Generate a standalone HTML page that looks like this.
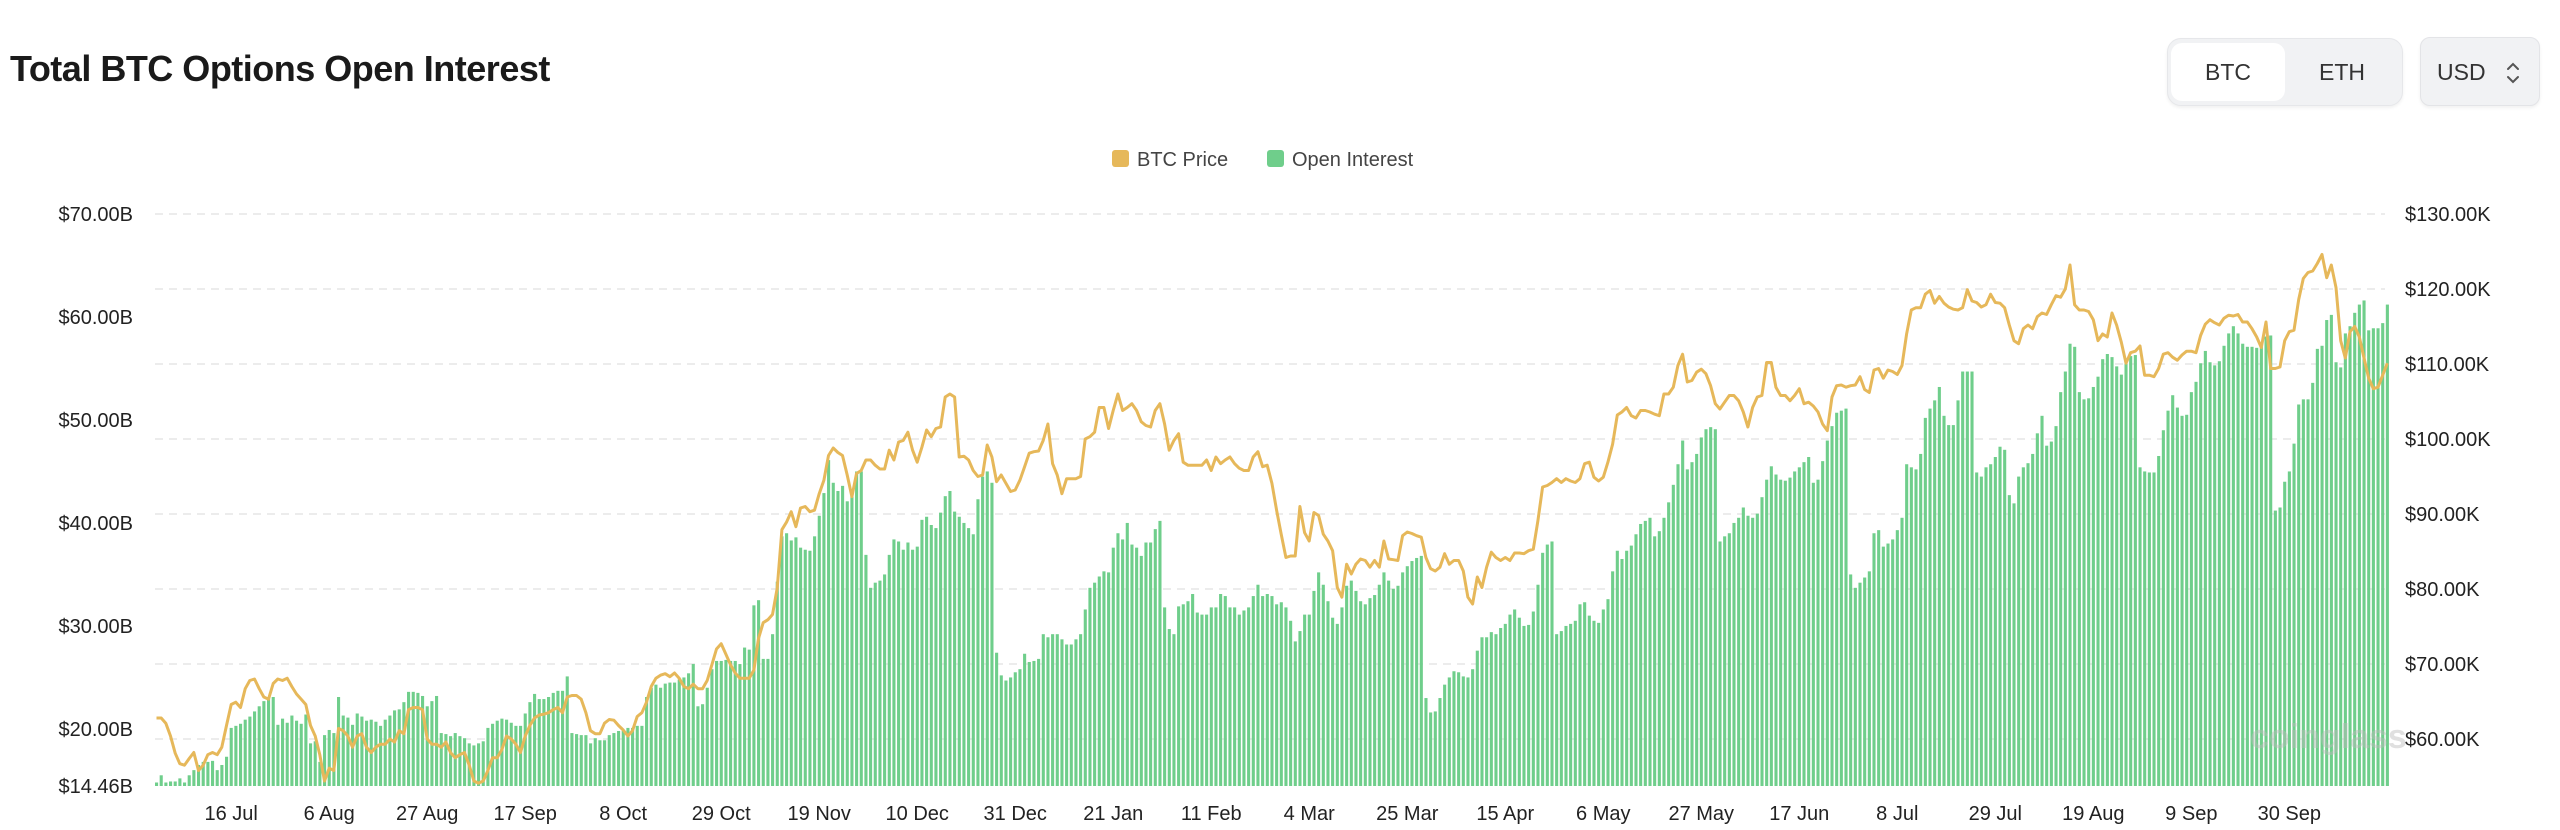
<!DOCTYPE html>
<html><head><meta charset="utf-8">
<style>
html,body{margin:0;padding:0;background:#fff;width:2560px;height:830px;overflow:hidden;font-family:"Liberation Sans",sans-serif;}
#title{position:absolute;left:10px;top:48px;font-size:36px;font-weight:bold;color:#1a1a1a;letter-spacing:-0.5px;}
.seg{position:absolute;left:2167px;top:38px;width:236px;height:68px;background:#f1f2f4;border:1px solid #e6e7ea;border-radius:14px;box-shadow:0 2px 3px rgba(0,0,0,0.06);box-sizing:border-box;}
.segbtn{position:absolute;top:4px;height:58px;line-height:58px;text-align:center;font-size:23px;color:#333;border-radius:11px;}
.usd{position:absolute;left:2420px;top:37px;width:120px;height:69px;background:#f1f2f4;border:1px solid #e3e4e7;border-radius:10px;box-sizing:border-box;box-shadow:0 2px 3px rgba(0,0,0,0.06);font-size:23px;color:#333;}
svg{position:absolute;left:0;top:0;}
</style></head><body>
<div id="title">Total BTC Options Open Interest</div>
<div class="seg">
  <div class="segbtn" style="left:3px;width:114px;background:#fff;">BTC</div>
  <div class="segbtn" style="left:117px;width:114px;">ETH</div>
</div>
<div class="usd"><span style="position:absolute;left:16px;top:21px;">USD</span><svg width="16" height="26" style="position:absolute;left:84px;top:22px;"><path d="M3 9 L8 4 L13 9 M3 17 L8 22 L13 17" fill="none" stroke="#555" stroke-width="2" stroke-linecap="round"/></svg></div>
<svg id="chart" width="2560" height="830"></svg>
<script>
const priceK = [
62.8,62.8,62.1,60.4,58.1,56.7,56.5,57.4,58.2,55.8,
56.5,57.9,58.2,57.9,58.9,61.8,64.6,64.9,64.2,66.7,
67.8,68,66.7,65.6,65.3,67.4,68,67.8,68.1,67,
66,65.3,64.6,61.8,60.4,57.9,54.4,56.1,55.8,61.4,
61.1,60.4,58.9,60.4,60.7,58.9,58.2,58.9,59.3,59.3,
60,59.6,61.1,60.7,63.9,64.2,64.2,63.9,60,59.3,
59.3,58.9,59.6,58.2,57.5,57.9,58.2,56.5,54.4,54.1,
54.4,55.8,57.5,57.5,58.6,60.4,60,59.3,58.2,60.4,
61.8,62.8,63.2,63.3,63.5,63.9,64.2,63.5,65.6,65.8,
65.8,65.3,63.5,61.1,60.7,60.7,62.1,62.6,62.5,61.8,
61.2,60.4,61.1,63,63.5,64.9,67,68.1,68.5,68.7,
68.3,68.8,68.1,67,66.7,67.3,66.7,66.7,67.8,69.9,
72,72.7,71.3,69.9,68.8,68.1,68.1,68.1,69.2,73.4,
75.5,75.9,76.6,80.1,87.9,88.9,90.3,
88.3,90.8,91,90.3,90.5,92.7,94.5,97.8,98.8,98.2,
97.8,95.2,92.3,95.4,95.8,97.2,97.2,96.5,96,96,
98.5,97.2,99.6,99.8,100.9,98.5,96.9,98.9,101.2,100.3,
101.4,101.6,105.6,106,105.6,97.6,97.7,97.2,95.8,95,
95.2,99.2,97.6,94.3,95.2,94.1,93,93.2,94.5,96.3,
98.1,98.3,98.4,99.8,102,96.7,95.2,92.7,94.7,94.7,
94.7,95,100,100.3,100.9,104.2,104.2,101.4,103.8,106,
103.8,104.2,104.7,103.8,102.3,101.8,101.6,103.8,104.7,102,
98.5,99.8,100.7,96.9,96.5,96.5,96.5,96.5,97.2,95.8,
97.6,96.7,97.2,97.6,96.7,96.1,95.8,95.8,97.6,98.3,
96.3,96.5,94.1,90.5,
87.3,84.2,84.4,84.4,91,87.5,86.4,90.2,89.8,87.3,
86.4,85.1,80.2,78.9,83.3,82,83.3,84,83.8,82.9,
83.8,82.9,86.4,84,83.9,83.8,87.1,87.6,87.4,87.1,
86.9,84.2,82.7,82.4,82.9,84.7,83.3,83.8,83.8,82.4,
78.9,78,81.6,80.2,82.9,84.9,84.2,83.8,84.2,83.8,
84.8,84.8,84.7,85.1,85.3,89.1,93.6,93.8,94.2,94.7,
94.2,94.7,94.4,94.2,94.7,96.7,96.9,94.9,94.4,94.9,
96.9,99.3,103.2,103.6,104.2,103.1,102.8,103.8,103.8,103.6,
103.3,103.1,106,106,106.9,109.8,111.3,107.6,107.8,108.9,
109.3,108.7,107.1,104.7,104,104.9,105.8,105.8,105.1,103.6,
101.6,104.2,105.6,105.8,110.2,110.2,106.9,105.8,105.8,105.1,
105.8,106.7,104.7,104.9,104.4,103.6,102,101.1,105.6,107.1,
107.2,106.9,107.1,107.2,108.3,106.6,106.2,109.2,109.4,108.1,
109.2,109,108.6,109.8,114,117.2,117.5,117.5,119.3,119.8,
118.1,119,118.1,117.6,117.3,117.2,117.5,119.9,118.4,118.2,
117.6,117.9,119.3,118.2,118.1,117.5,115.2,113.1,112.7,114.7,
115.2,114.7,116.3,116.8,116.6,117.9,119.1,118.9,120,123.2,
117.9,117.2,117.2,117,115.9,113.1,114,113.6,116.8,115.2,
112.9,110.1,111.5,111.7,112.4,108.5,108.5,108.3,109.4,111.3,
111.5,110.9,110.5,111.2,111.7,111.7,111.5,113.8,115.3,115.9,
115.5,115.2,116.1,116.5,116.4,116.6,115.6,115.6,114.7,113.6,
112.2,115.6,109.4,109.4,109.6,113.1,114.3,114.5,118.6,121.4,
122.2,122.4,123.4,124.6,121.5,123.2,120.2,113.1,110.8,114.3,
115,113.6,110.8,108.1,106.7,106.9,108.5,110.1
];
const openInterestB = [
14.8,15.5,14.8,14.9,14.9,15.2,14.8,15.5,16,16.5,
16.8,16.8,16.9,16,16.5,17.3,20.1,20.3,20.5,20.9,
21.2,21.7,22.2,22.7,23,23.1,20.4,21,20.6,21.3,
20.8,20.5,21.4,18.6,18.8,16.8,19.4,19.9,19.6,23.1,
21.3,21.1,20.4,21.5,21.2,20.8,20.9,20.7,20.3,20.9,
21.3,21.8,21.9,22.6,23.6,23.6,23.5,23.2,22.2,22.7,
23.2,19.6,19.5,19.3,19.6,19.3,19.1,18.6,18.4,18.6,
18.8,20.1,20.5,20.8,21,20.9,20.6,20.3,20.3,21.5,
22.6,23.4,22.9,22.9,23.1,23.5,23.7,23.7,25.1,19.6,
19.5,19.4,19.4,18.6,19.1,18.9,18.9,19.4,19.6,19.8,
19.8,20.1,20.1,20.3,20.3,23.1,24,24.3,24,24.4,
24.5,24.5,24.8,25,25.4,26.3,22.2,22.4,24,25.8,
26.6,26.6,26.7,26.6,26.6,26.3,27.9,27.7,32,32.5,
26.8,26.8,29.2,34.3,38.7,39,38.3,
38.6,37.6,37.4,37.3,38.7,40.7,42.9,46.1,43.9,43.1,
43.6,42.1,42.6,45,45,36.9,33.7,34.2,34.4,35,
36.9,38.4,38.2,37.4,38.1,37.4,37.7,40.3,40.6,39.8,
39.5,41,42.6,43.1,41.1,40.6,40,39.5,38.9,42.3,
44.5,45,43.9,27.4,25.2,24.7,25,25.5,25.8,27.3,
26.5,26.6,26.8,29.2,28.9,29.2,29.2,28.7,28.2,28.2,
28.7,29.2,31.6,33.7,34.2,34.8,35.3,35.2,37.6,39,
38.4,40,37.9,37.6,36.8,38.1,38.1,39.4,40.2,31.8,
29.7,29.2,31.9,32.1,32.4,33.1,31.3,31.1,31.1,31.8,
31.8,33.1,32.9,31.8,31.8,31.1,31.5,31.8,32.9,34,
32.9,33.1,32.9,32.1,
32.3,31.8,30.5,28.5,29.5,31.1,31.1,33.4,35.2,34,
32.4,30.8,30.2,31.8,33.9,34.4,33.4,32.4,32.1,32.7,
33,34,35.2,34.4,33.6,33.9,35.2,35.8,36.3,36.6,
36.8,23,21.6,21.7,23,24.3,25,25.6,25.5,25.1,
25,25.8,27.6,28.9,28.9,29.4,29.2,29.8,30.2,31.1,
31.6,30.8,30,30.1,31.4,34,37.1,37.9,38.2,29.2,
29.5,30,30.2,30.5,32.1,32.3,31,30.5,30.3,31.6,
32.6,35.3,37.3,36.5,37.3,37.8,38.9,39.9,40.2,40.5,
38.7,39.2,40.5,42,43.7,45.7,48,45.2,45.9,46.7,
48.3,49.1,49.3,49.1,38.2,38.7,39,40,40.5,41.5,
40.7,40.5,40.9,42.5,44.2,45.5,44.7,44.2,44.1,44.4,
45,45.4,45.9,46.4,43.9,44.2,46,48,49.4,50.7,
50.9,51.1,35,33.7,34.2,34.7,35.3,39,39.3,37.7,
38,38.4,39.3,40.5,45.7,45.4,45.2,46.7,50.2,51.1,
51.9,53.2,50.4,49.5,49.5,51.9,54.7,54.7,54.7,44.9,
44.5,45.4,45.7,46.4,47.4,47.1,42.7,41.9,44.5,45.4,
45.8,46.7,48.7,50.4,47.5,47.9,49.4,52.7,54.7,57.4,
57.1,52.7,52,52.1,53.2,54.2,55.9,56.4,56.1,55.2,
54.4,55.7,56.2,56.3,45.4,45,44.9,44.9,46.5,49,
50.9,52.4,51.2,50.4,50.5,52.7,53.7,55.5,56.7,55.6,
55.3,55.7,57.2,58.4,59.1,58.4,57.4,57.1,57.1,57,
57.4,58.1,58.2,41.2,41.5,44,45,47.7,51.5,52,
52,53.6,56.9,57.2,59.7,60.2,55.6,55.1,58.4,59.1,
60.4,61.2,61.6,58.7,58.9,58.9,59.4,61.2
];
const leftTicks = [70, 60, 50, 40, 30, 20, 14.46];
const rightTicks = [130, 120, 110, 100, 90, 80, 70, 60];
const xTickLabels = ["16 Jul","6 Aug","27 Aug","17 Sep","8 Oct","29 Oct","19 Nov","10 Dec","31 Dec","21 Jan","11 Feb","4 Mar","25 Mar","15 Apr","6 May","27 May","17 Jun","8 Jul","29 Jul","19 Aug","9 Sep","30 Sep"];
const xTickDays = [16,37,58,79,100,121,142,163,184,205,226,247,268,289,310,331,352,373,394,415,436,457];

const NS = "http://www.w3.org/2000/svg";
const svg = document.getElementById('chart');
const X0 = 155, STEP = 4.667, BOT = 786;
const xScale = d => X0 + STEP * d;
const yLeft = v => BOT - (v - 14.46) * 10.3;
const yRight = p => BOT - (p - 53.73) * 7.5;
function mk(tag, attrs) { const e = document.createElementNS(NS, tag); for (const k in attrs) e.setAttribute(k, attrs[k]); svg.appendChild(e); return e; }

rightTicks.forEach((t) => {
  const y = yRight(t);
  const g = mk('line', {x1: 155, x2: 2385, y1: y, y2: y, stroke: '#e6e6e6', 'stroke-width': 1.5, 'stroke-dasharray': '8 6'});
  
  
  const tx = mk('text', {x: 2405, y: y + 7, 'font-size': 20, fill: '#222', 'font-family': 'Liberation Sans, sans-serif'});
  tx.textContent = '$' + t.toFixed(2) + 'K';
  
  
});
leftTicks.forEach((t) => {
  const tx = mk('text', {x: 133, y: yLeft(t) + 7, 'font-size': 20, fill: '#222', 'text-anchor': 'end', 'font-family': 'Liberation Sans, sans-serif'});
  tx.textContent = '$' + t.toFixed(2) + 'B';
  
  
});

for (let i = 0; i < openInterestB.length; i++) {
  const y = yLeft(openInterestB[i]);
  const b = mk('rect', {x: xScale(i), y: y, width: 3.1, height: BOT - y, fill: '#6fce8b'});
  
  
}
let dstr = '';
for (let i = 0; i < priceK.length; i++) {
  dstr += (i ? 'L' : 'M') + (xScale(i) + 1.5).toFixed(1) + ' ' + yRight(priceK[i]).toFixed(1);
}
const line = mk('path', {d: dstr, fill: 'none', stroke: '#e6b85a', 'stroke-width': 3, 'stroke-linejoin': 'round'});



xTickLabels.forEach((lab, k) => {
  const tx = mk('text', {x: xScale(xTickDays[k]) + 1.5, y: 820, 'font-size': 20, fill: '#222', 'text-anchor': 'middle', 'font-family': 'Liberation Sans, sans-serif'});
  tx.textContent = lab;
  
  
});

const l1 = mk('rect', {x: 1112, y: 150, width: 17, height: 17, rx: 3, fill: '#e6b85a'});


const lt1 = mk('text', {x: 1137, y: 166, 'font-size': 20, fill: '#444', 'font-family': 'Liberation Sans, sans-serif'});
lt1.textContent = 'BTC Price';


const l2 = mk('rect', {x: 1267, y: 150, width: 17, height: 17, rx: 3, fill: '#6fce8b'});


const lt2 = mk('text', {x: 1292, y: 166, 'font-size': 20, fill: '#444', 'font-family': 'Liberation Sans, sans-serif'});
lt2.textContent = 'Open Interest';



const wm = mk('text', {x: 2250, y: 748, 'font-size': 34, 'font-weight': 'bold', fill: '#bbbbbb', opacity: 0.45, 'font-family': 'Liberation Sans, sans-serif'});
wm.textContent = 'coinglass';


</script>
</body></html>
